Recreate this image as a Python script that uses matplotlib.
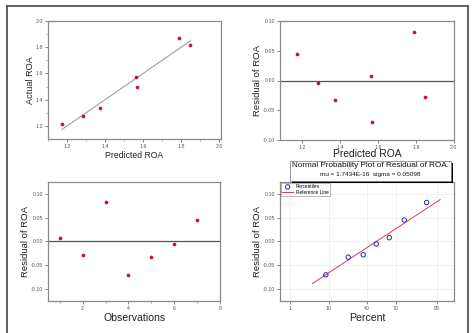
import matplotlib
matplotlib.use("Agg")
import matplotlib.pyplot as plt
from matplotlib.lines import Line2D
from matplotlib.patches import Rectangle
from statistics import NormalDist
import numpy as np

plt.rcParams['font.family'] = ['Liberation Sans', 'DejaVu Sans']

# Regression diagnostics for ROA, one entry per observation
observations = [1, 2, 3, 4, 5, 6, 7]
predicted_roa = [1.562, 1.848, 1.788, 1.568, 1.373, 1.283, 1.173]
residual_roa = [0.008, -0.028, 0.082, -0.070, -0.033, -0.005, 0.045]
actual_roa = [p + r for p, r in zip(predicted_roa, residual_roa)]

# Normal probability plot summary
mu_text = "1.7434E-16"
sigma_value = 0.05098
percent_ticks = [1, 10, 40, 70, 95]
ref_line_percent = [4.2, 95.8]

nd = NormalDist()

W, H = 474, 333
fig = plt.figure(figsize=(W / 100, H / 100), dpi=100)
fig.patch.set_facecolor("white")

def px_axes(l, t, r, b):
    return fig.add_axes([l / W, 1 - b / H, (r - l) / W, (b - t) / H])

PT_RED = "#c41230"
SPINE = "#8a8a8a"

def style(ax, tick_fs=3.8):
    for s in ax.spines.values():
        s.set_color(SPINE)
        s.set_linewidth(0.9)
    ax.tick_params(which="major", direction="out", length=2.2, width=0.5,
                   colors="#555555", labelsize=tick_fs, pad=1.5,
                   top=False, right=False)
    ax.tick_params(which="minor", direction="out", length=1.2, width=0.4,
                   colors="#777777", top=False, right=False)
    ax.set_facecolor("white")

def labels(ax, xl, yl, xfs, yfs, xy, yx):
    ax.set_xlabel(xl, fontsize=xfs, color="#222222", va="center")
    ax.set_ylabel(yl, fontsize=yfs, color="#222222", va="center")
    ax.xaxis.set_label_coords(0.5, xy)
    ax.yaxis.set_label_coords(yx, 0.5)

# Panel 1: actual vs predicted
ax1 = px_axes(48, 21, 221, 139)
style(ax1)
slope, intercept = np.polyfit(predicted_roa, actual_roa, 1)
xs = np.array([min(predicted_roa), max(predicted_roa)])
ax1.plot(xs, slope * xs + intercept, color="#a0a0a0", lw=0.8, zorder=2)
ax1.scatter(predicted_roa, actual_roa, s=7, color=PT_RED, zorder=3, linewidths=0)
ax1.set_xlim(1.1, 2.01)
ax1.set_ylim(1.1, 2.0)
ax1.set_xticks([1.2, 1.4, 1.6, 1.8, 2.0])
ax1.set_yticks([1.2, 1.4, 1.6, 1.8, 2.0])
ax1.set_xticks([1.1, 1.3, 1.5, 1.7, 1.9], minor=True)
ax1.set_yticks([1.3, 1.5, 1.7, 1.9], minor=True)
labels(ax1, "Predicted ROA", "Actual ROA", 6.2, 6.6, -0.141, -0.104)

# Panel 2: residual vs predicted
ax2 = px_axes(280.3, 21, 453.7, 140)
style(ax2)
ax2.axhline(0, color="#555555", lw=0.9, zorder=1)
ax2.scatter(predicted_roa, residual_roa, s=7, color=PT_RED, zorder=3, linewidths=0)
ax2.set_xlim(1.085, 2.0)
ax2.set_ylim(-0.1, 0.1)
ax2.set_xticks([1.2, 1.4, 1.6, 1.8, 2.0])
ax2.set_yticks([-0.10, -0.05, 0.0, 0.05, 0.10])
ax2.set_yticklabels(["-0.10", "-0.05", "0.00", "0.05", "0.10"])
labels(ax2, "Predicted ROA", "Residual of ROA", 7.4, 6.8, -0.115, -0.129)

# Panel 3: residual vs observation order
ax3 = px_axes(48.3, 182, 220, 301)
style(ax3)
ax3.axhline(0, color="#555555", lw=0.9, zorder=1)
ax3.scatter(observations, residual_roa, s=7, color=PT_RED, zorder=3, linewidths=0)
ax3.set_xlim(0.5, 8)
ax3.set_ylim(-0.125, 0.125)
ax3.set_xticks([2, 4, 6, 8])
ax3.set_xticks([1, 3, 5, 7], minor=True)
ax3.set_yticks([-0.10, -0.05, 0.0, 0.05, 0.10])
ax3.set_yticklabels(["-0.10", "-0.05", "0.00", "0.05", "0.10"])
labels(ax3, "Observations", "Residual of ROA", 7.6, 6.8, -0.145, -0.132)

# Panel 4: normal probability plot of residuals (Blom plotting positions)
ax4 = px_axes(280.3, 182, 453.7, 301)
style(ax4)
n = len(residual_roa)
sorted_res = sorted(residual_roa)
blom = [(i - 0.375) / (n + 0.25) for i in range(1, n + 1)]
zq = [nd.inv_cdf(p) for p in blom]
mu = float(np.mean(residual_roa))
zr = np.array([nd.inv_cdf(p / 100) for p in ref_line_percent])
ax4.set_axisbelow(True)
ax4.plot(zr, mu + sigma_value * zr, color="#d0404c", lw=0.7, zorder=2,
         label="Reference Line")
ax4.scatter(zq, sorted_res, s=10, facecolors="none", edgecolors="#2a2ab8",
            linewidths=0.7, zorder=3, label="Percentiles")
ax4.set_xlim(nd.inv_cdf(0.0047), nd.inv_cdf(0.982))
ax4.set_ylim(-0.125, 0.125)
ax4.set_xticks([nd.inv_cdf(p / 100) for p in percent_ticks])
ax4.set_xticklabels([str(p) for p in percent_ticks])
ax4.set_yticks([-0.10, -0.05, 0.0, 0.05, 0.10])
ax4.set_yticklabels(["-0.10", "-0.05", "0.00", "0.05", "0.10"])
ax4.grid(True, color="#ebebeb", lw=0.5)
h, l = ax4.get_legend_handles_labels()
leg = ax4.legend(h[::-1], l[::-1], loc="upper left", fontsize=3.4,
                 frameon=True, fancybox=False, borderpad=0.3,
                 handlelength=2.2, handletextpad=0.6, labelspacing=0.15,
                 borderaxespad=0.15)
leg.get_frame().set_edgecolor("#888888")
leg.get_frame().set_linewidth(0.5)
labels(ax4, "Percent", "Residual of ROA", 7.6, 6.8, -0.140, -0.129)

# Title box with drop shadow above panel 4
bx0, by0, bx1, by1 = 290, 161, 451, 181
fig.add_artist(Rectangle(((bx0 + 2.0) / W, 1 - (by1 + 2.0) / H),
                         (bx1 - bx0) / W, (by1 - by0) / H,
                         transform=fig.transFigure, facecolor="black",
                         edgecolor="none", zorder=5))
fig.add_artist(Rectangle((bx0 / W, 1 - by1 / H), (bx1 - bx0) / W,
                         (by1 - by0) / H, transform=fig.transFigure,
                         facecolor="white", edgecolor="#777777", lw=0.5,
                         zorder=6))
fig.text((bx0 + bx1) / 2 / W, 1 - 165.7 / H,
         "Normal Probability Plot of Residual of ROA.", fontsize=5.9,
         ha="center", va="center", color="#111111", zorder=7)
fig.text((bx0 + bx1) / 2 / W, 1 - 174.5 / H,
         f"mu = {mu_text}  sigma = {sigma_value:.5f}", fontsize=4.6,
         ha="center", va="center", color="#111111", zorder=7)

# Outer frame
fc = "#555555"
fig.add_artist(Line2D([6.5 / W, 6.5 / W], [0, 1 - 5.5 / H], color=fc, lw=1.3,
                      transform=fig.transFigure))
fig.add_artist(Line2D([467.8 / W, 467.8 / W], [0, 1 - 5.5 / H], color=fc,
                      lw=1.3, transform=fig.transFigure))
fig.add_artist(Line2D([6.5 / W, 467.8 / W], [1 - 5.5 / H, 1 - 5.5 / H],
                      color=fc, lw=1.3, transform=fig.transFigure))

fig.savefig("out.png", dpi=100, facecolor="white")
